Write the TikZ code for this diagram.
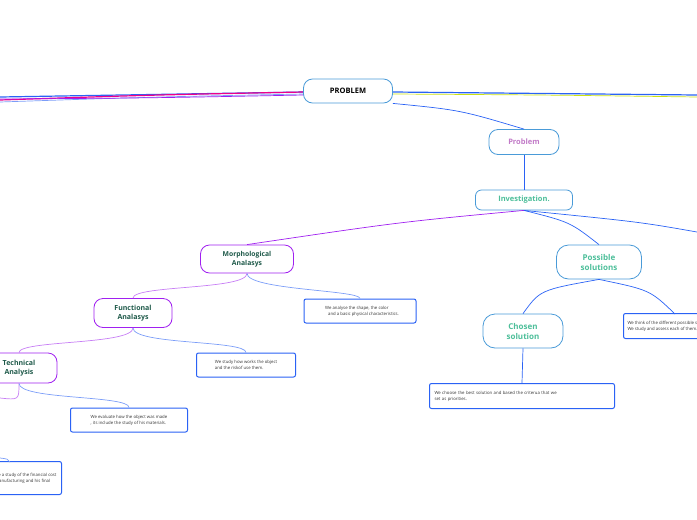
\documentclass[tikz,border=0pt]{standalone}
\usepackage{fontspec}
\setmainfont{Open Sans}
\definecolor{lb}{HTML}{2A62F5}
\definecolor{lbl}{HTML}{7C9EF8}
\definecolor{pu}{HTML}{A020F0}
\definecolor{pul}{HTML}{C77EF5}
\definecolor{tl}{HTML}{4DBF9A}
\definecolor{dg}{HTML}{1F5A4A}
\definecolor{pk}{HTML}{C27BC8}
\definecolor{cy}{HTML}{4A9BD8}
\begin{document}
\begin{tikzpicture}[x=1pt,y=-1pt,
  topic/.style={draw=#1,line width=0.8pt,rounded corners=9pt,fill=white,align=center,font=\bfseries\fontsize{7.5}{9}\selectfont,inner sep=0pt},
  note/.style={draw=lb,line width=1pt,rounded corners=2pt,fill=white,align=left,font=\fontsize{4.3}{6}\selectfont,text=black!80,inner sep=0pt},
  lnk/.style={line width=0.7pt}]
\useasboundingbox (0,0) rectangle (697,520);
\clip (0,0) rectangle (697,520);
% edges from root to sides
\draw[lnk,lb,line width=1.2pt] (304,92) -- (0,97);
\draw[lnk,magenta,line width=1.2pt] (304,92) .. controls (150,95) .. (0,100);
\draw[lnk,lbl] (304,94) .. controls (150,97) .. (0,102);
\draw[lnk,pu] (304,95) .. controls (150,98) .. (0,99);
\draw[lnk,lb,line width=1.2pt] (393,92) -- (697,95);
\draw[lnk,yellow!80!green] (393,94) .. controls (550,95) .. (697,97);
% nodes
\node[topic=cy,minimum width=89pt,minimum height=24pt,text=black] (root) at (348,91) {PROBLEM};
\node[topic=cy,minimum width=70pt,minimum height=25pt,text=pk] (prob) at (524,142) {Problem};
\node[topic=cy,minimum width=97pt,minimum height=20pt,rounded corners=6pt,text=tl] (inv) at (524,200) {Investigation.};
\node[topic=pu,minimum width=93pt,minimum height=28pt,text=dg,font=\bfseries\fontsize{6.8}{9}\selectfont] (morph) at (247,259) {Morphological\\Analasys};
\node[topic=cy,minimum width=85pt,minimum height=34pt,rounded corners=12pt,text=tl,font=\bfseries\fontsize{8}{10}\selectfont] (poss) at (599,262) {Possible\\solutions};
\node[topic=pu,minimum width=78pt,minimum height=29pt,text=dg,font=\bfseries\fontsize{7}{9}\selectfont] (func) at (133,313) {Functional\\Analasys};
\node[note,minimum width=112pt,minimum height=24pt] (shape) at (360,311) {\hspace*{4pt}We analyse the shape, the color\\\hspace*{7pt}and a basic physical characteristics.};
\node[topic=pu,minimum width=76pt,minimum height=30pt,text=dg,font=\bfseries\fontsize{7}{9}\selectfont] (tech) at (19,368) {Technical\\Analysis};
\node[note,minimum width=99pt,minimum height=24pt] (works) at (246,365) {We study how works the object\\and the riskof use them.};
\node[note,minimum width=117pt,minimum height=24pt] (made) at (129,420) {We evaluate how the object was made\\, its include the study of his materials.};
\node[note,anchor=east,minimum height=33pt,inner xsep=5pt] (fin) at (62,478) {We make a study of the financial cost\\of the manufacturing and his final};
\node[topic=cy,minimum width=80pt,minimum height=34pt,rounded corners=12pt,text=tl,font=\bfseries\fontsize{8}{10}\selectfont] (chosen) at (523,331) {Chosen\\solution};
\node[note,minimum width=185pt,minimum height=25pt,text width=175pt,inner xsep=5pt] (best) at (522,396) {We choose the best solution and based the criterua that we\\set as priorities.};
\node[note,anchor=west,minimum height=25pt,inner xsep=4pt] (think) at (623,326) {We think of the different possible solutions.\\We study and assess each of them.};
% connectors
\draw[lnk,lb] (root.south east) .. controls (460,110) .. (prob.north);
\draw[lnk,lb] (prob.south) -- (inv.north);
\draw[lnk,pu] (inv.south) .. controls (400,222) .. (morph.north);
\draw[lnk,lb] (inv.south) .. controls (570,222) .. (poss.north);
\draw[lnk,lb] (inv.south) .. controls (640,222) .. (697,232);
\draw[lnk,pul] (morph.south) .. controls (247,290) and (133,285) .. (func.north);
\draw[lnk,lbl] (morph.south) .. controls (247,290) and (360,290) .. (shape.north);
\draw[lnk,pul] (func.south) .. controls (133,345) and (19,340) .. (tech.north);
\draw[lnk,lbl] (func.south) .. controls (133,345) and (246,340) .. (works.north);
\draw[lnk,pul] (tech.south) .. controls (19,400) .. (0,398);
\draw[lnk,lbl] (tech.south) .. controls (19,400) and (129,395) .. (made.north);
\draw[lnk,lbl] (0,458) .. controls (8,459) .. (10,462);
\draw[lnk,lb] (poss.south) .. controls (540,290) .. (chosen.north);
\draw[lnk,lb] (poss.south) .. controls (650,290) .. (675,314);
\draw[lnk,lb] (chosen.south) -- (best.north);
\end{tikzpicture}
\end{document}
